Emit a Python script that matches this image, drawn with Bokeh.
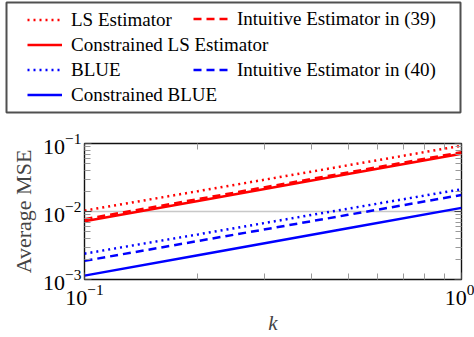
from bokeh.plotting import figure
from bokeh.layouts import column
from bokeh.models import (Range1d, FixedTicker, LogTickFormatter, LogAxis, Legend,
                          LegendItem, CustomJSTickFormatter)
from bokeh.embed import file_html
from bokeh.resources import INLINE

# ---- data ----
k = [0.1, 0.2, 0.5, 1.0]
ls_est = [0.0103, 0.0199, 0.0478, 0.0927]
intuitive_39 = [0.0077, 0.0152, 0.0375, 0.0745]
constrained_ls = [0.0072, 0.0143, 0.0355, 0.0707]
blue_est = [0.0024, 0.0046, 0.0110, 0.0212]
intuitive_40 = [0.00188, 0.00368, 0.00893, 0.0175]
constrained_blue = [0.00114, 0.00227, 0.00567, 0.0113]

x_major = [0.1, 1.0]
x_minor = [0.2, 0.3, 0.4, 0.5, 0.6, 0.7, 0.8, 0.9]
y_major = [0.001, 0.01, 0.1]
y_minor = [0.002, 0.003, 0.004, 0.005, 0.006, 0.007, 0.008, 0.009,
           0.02, 0.03, 0.04, 0.05, 0.06, 0.07, 0.08, 0.09]

FONT = "Liberation Serif"
RED = "#ff0000"
BLUE = "#0000ff"
LW = 2.5
DOT = "2 4"
DASH = "8 5"

series = [
    ("LS Estimator", ls_est, RED, DOT),
    ("Intuitive Estimator in (39)", intuitive_39, RED, DASH),
    ("Constrained LS Estimator", constrained_ls, RED, "solid"),
    ("BLUE", blue_est, BLUE, DOT),
    ("Intuitive Estimator in (40)", intuitive_40, BLUE, DASH),
    ("Constrained BLUE", constrained_blue, BLUE, "solid"),
]

# ---------------- main plot ----------------
p = figure(width=474, height=222, x_axis_type="log", y_axis_type="log",
           x_range=Range1d(0.1, 1.0), y_range=Range1d(0.001, 0.1),
           output_backend="svg", toolbar_location=None,
           min_border_left=84, min_border_right=13,
           min_border_top=28, min_border_bottom=54)
p.frame_align = False
p.background_fill_color = "white"
p.border_fill_color = "white"
p.outline_line_color = "#111111"
p.outline_line_width = 1.4

xt = FixedTicker(ticks=x_major, minor_ticks=x_minor)
yt = FixedTicker(ticks=y_major, minor_ticks=y_minor)

blank = CustomJSTickFormatter(code="return ''")
p.add_layout(LogAxis(formatter=blank, major_label_standoff=0), "above")
p.add_layout(LogAxis(formatter=blank, major_label_standoff=0), "right")

for ax in p.xaxis:
    ax.ticker = xt
for ax in p.yaxis:
    ax.ticker = yt

for ax in list(p.xaxis) + list(p.yaxis):
    ax.axis_line_color = None
    ax.major_tick_in = 7
    ax.major_tick_out = 0
    ax.minor_tick_in = 6
    ax.minor_tick_out = 0
    ax.major_tick_line_color = "#444444"
    ax.minor_tick_line_color = "#999999"
    ax.major_label_text_font = FONT
    ax.major_label_text_font_size = "22px"
    ax.major_label_text_color = "black"

p.below[0].formatter = LogTickFormatter()
p.left[0].formatter = LogTickFormatter()

p.below[0].major_label_standoff = 5
p.below[0].axis_label = "k"
p.below[0].axis_label_text_font = FONT
p.below[0].axis_label_text_font_style = "italic"
p.below[0].axis_label_text_font_size = "21px"
p.below[0].axis_label_standoff = 3

p.left[0].major_label_standoff = 3
p.left[0].axis_label = "Average MSE"
p.left[0].axis_label_text_font = FONT
p.left[0].axis_label_text_font_style = "normal"
p.left[0].axis_label_text_font_size = "22px"
p.left[0].axis_label_standoff = 4

p.xgrid.visible = False
p.ygrid.ticker = yt
p.ygrid.grid_line_color = "#c8c8c8"
p.ygrid.grid_line_width = 1.5

for name, ys, color, dash in series:
    p.line(k, ys, line_color=color, line_width=LW, line_dash=dash)

# ---------------- legend panel ----------------
# its frame is the legend box; the series are drawn here too but fall outside
# this panel's y range, so only their legend samples are visible
lg = figure(width=474, height=115, output_backend="svg", toolbar_location=None,
            x_axis_location=None, y_axis_location=None,
            x_range=Range1d(0, 1), y_range=Range1d(1, 2),
            min_border_left=6, min_border_right=14,
            min_border_top=2, min_border_bottom=3)
lg.frame_align = False
lg.grid.visible = False
lg.outline_line_color = "#505050"
lg.outline_line_width = 2
lg.background_fill_color = "white"
lg.border_fill_color = "white"

handles = {}
for name, ys, color, dash in series:
    handles[name] = lg.line(k, ys, line_color=color, line_width=LW, line_dash=dash)

common = dict(orientation="vertical", padding=0, margin=0, spacing=0,
              label_height=25, glyph_height=25, glyph_width=35, label_standoff=9,
              label_text_font=FONT, label_text_font_size="19px",
              label_text_color="black", border_line_color=None,
              background_fill_alpha=0)

col1 = ["LS Estimator", "Constrained LS Estimator", "BLUE", "Constrained BLUE"]
col2 = ["Intuitive Estimator in (39)", "Intuitive Estimator in (40)"]

# frame spans canvas x 6..460, y 2..112 (height 110)
leg1 = Legend(items=[LegendItem(label=n, renderers=[handles[n]]) for n in col1],
              location=(21, 5), **common)
common2 = dict(common)
common2["spacing"] = 26
leg2 = Legend(items=[LegendItem(label=n, renderers=[handles[n]]) for n in col2],
              location=(187, 30), **common2)
lg.add_layout(leg1)
lg.add_layout(leg2)

layout = column(lg, p, spacing=0)
open("out.html", "w").write(file_html(layout, INLINE))
